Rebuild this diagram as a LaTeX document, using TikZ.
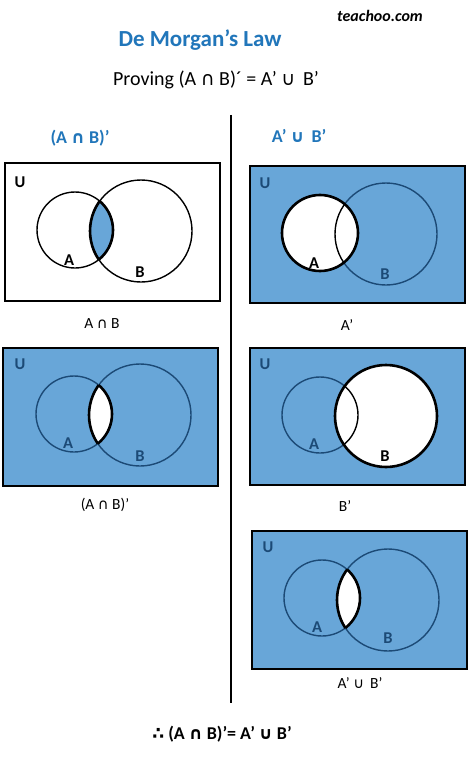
\documentclass[tikz,border=0pt]{standalone}
\usepackage{fontspec}
\setmainfont{Carlito}
\newfontfamily\symf[Scale=0.95]{DejaVu Sans}
\definecolor{fillblue}{RGB}{104,166,216}
\definecolor{darkblue}{RGB}{28,74,118}
\definecolor{titleblue}{RGB}{33,118,186}
\newcommand{\mycap}{{\symf ∩}}
\newcommand{\mycup}{{\symf ∪}}
\newcommand{\mythere}{{\symf ∴}}
\tikzset{
  boxthin/.style={draw=black, line width=1.6pt},
  boxthick/.style={draw=black, line width=2.6pt},
  circblack/.style={draw=black, line width=1.4pt},
  circblue/.style={draw=darkblue, line width=1.4pt},
  lensline/.style={draw=black, line width=2.6pt},
  lbl/.style={font=\fontsize{16.5}{17}\selectfont\bfseries, inner sep=0pt},
  caption/.style={font=\fontsize{15.5}{16}\selectfont, inner sep=0pt},
  heading/.style={font=\fontsize{18}{20}\selectfont\bfseries, text=titleblue, inner sep=0pt},
}
\begin{document}
\begin{tikzpicture}[x=1pt,y=-1pt]
\useasboundingbox (0,0) rectangle (474,762);
\fill[white] (0,0) rectangle (474,762);

% texts at top
\node[font=\fontsize{16}{18}\selectfont\bfseries\itshape, inner sep=0pt] (logo) at (380,16) {teachoo.com};
\node[font=\fontsize{23}{25}\selectfont\bfseries, text=titleblue, inner sep=0pt] (title) at (200,40) {De Morgan’s Law};
\node[font=\fontsize{20}{22}\selectfont, inner sep=0pt] (prove) at (216,80) {Proving (A \mycap{} B)´ = A’ \mycup{}\, B’};

\node[heading] (hl) at (80,138) {(A \mycap{} B)’};
\node[heading] (hr) at (299,136) {A’ \mycup{}\, B’};

% divider
\coordinate (ltop) at (231,115);
\coordinate (lbot) at (231,703);
\draw[line width=1.6pt] (ltop) -- (lbot);

% Panel 1: A intersect B
\begin{scope}[shift={(5,163)}]
  \draw[boxthin, fill=white] (0,0) rectangle (215,138);
  \begin{scope}\clip (70,67) circle[radius=38]; \fill[fillblue] (136,68) circle[radius=51];\end{scope}
  \draw[circblack] (70,67) circle[radius=38];
  \draw[circblack] (136,68) circle[radius=51];
  \begin{scope}\clip (70,67) circle[radius=38]; \draw[lensline] (136,68) circle[radius=51];\end{scope}
  \begin{scope}\clip (136,68) circle[radius=51]; \draw[lensline] (70,67) circle[radius=38];\end{scope}
  \node[lbl] (U1) at (15,19) {U};
  \node[lbl] (A1) at (64,97) {A};
  \node[lbl] (B1) at (135,109) {B};
\end{scope}
\node[caption] (c1) at (102,324) {A \mycap{} B};

% Panel 2: A'
\begin{scope}[shift={(250,166)}]
  \draw[boxthick, fill=fillblue] (0,0) rectangle (215,137);
  \draw[circblue] (136,68) circle[radius=51];
  \fill[white] (70,67) circle[radius=38];
  \begin{scope}\clip (70,67) circle[radius=38]; \draw[circblack] (136,68) circle[radius=51];\end{scope}
  \draw[lensline] (70,67) circle[radius=38];
  \node[lbl, text=darkblue] (U2) at (15,17) {U};
  \node[lbl] (A2) at (64,97) {A};
  \node[lbl, text=darkblue] (B2) at (135,108) {B};
\end{scope}
\node[caption] (c2) at (347,325) {A’};

% Panel 3: (A intersect B)'
\begin{scope}[shift={(3,348)}]
  \draw[boxthick, fill=fillblue] (0,0) rectangle (215,138);
  \begin{scope}\clip (71,66) circle[radius=38]; \fill[white] (137,67) circle[radius=51];\end{scope}
  \draw[circblue] (71,66) circle[radius=38];
  \draw[circblue] (137,67) circle[radius=51];
  \begin{scope}\clip (71,66) circle[radius=38]; \draw[lensline] (137,67) circle[radius=51];\end{scope}
  \begin{scope}\clip (137,67) circle[radius=51]; \draw[lensline] (71,66) circle[radius=38];\end{scope}
  \node[lbl, text=darkblue] (U3) at (17,16) {U};
  \node[lbl, text=darkblue] (A3) at (65,95) {A};
  \node[lbl, text=darkblue] (B3) at (137,108) {B};
\end{scope}
\node[caption] (c3) at (105,505) {(A \mycap{} B)’};

% Panel 4: B'
\begin{scope}[shift={(250,348)}]
  \draw[boxthick, fill=fillblue] (0,0) rectangle (215,137);
  \draw[circblue] (70,67) circle[radius=38];
  \fill[white] (136,68) circle[radius=51];
  \begin{scope}\clip (136,68) circle[radius=51]; \draw[circblack] (70,67) circle[radius=38];\end{scope}
  \draw[lensline] (136,68) circle[radius=51];
  \node[lbl, text=darkblue] (U4) at (15,16) {U};
  \node[lbl, text=darkblue] (A4) at (64,96) {A};
  \node[lbl] (B4) at (135,108) {B};
\end{scope}
\node[caption] (c4) at (345,506) {B’};

% Panel 5: A' union B'
\begin{scope}[shift={(252,531)}]
  \draw[boxthick, fill=fillblue] (0,0) rectangle (215,138);
  \begin{scope}\clip (70,67) circle[radius=38]; \fill[white] (136,69) circle[radius=51];\end{scope}
  \draw[circblue] (70,67) circle[radius=38];
  \draw[circblue] (136,69) circle[radius=51];
  \begin{scope}\clip (70,67) circle[radius=38]; \draw[lensline] (136,69) circle[radius=51];\end{scope}
  \begin{scope}\clip (136,69) circle[radius=51]; \draw[lensline] (70,67) circle[radius=38];\end{scope}
  \node[lbl, text=darkblue] (U5) at (16,16) {U};
  \node[lbl, text=darkblue] (A5) at (65,96) {A};
  \node[lbl, text=darkblue] (B5) at (136,107) {B};
\end{scope}
\node[caption] (c5) at (360,683) {A’ \mycup{}\, B’};

% conclusion
\node[font=\fontsize{18}{20}\selectfont\bfseries, inner sep=0pt] (concl) at (222,734) {\mythere{} (A \mycap{} B)’= A’ \mycup{} B’};
\end{tikzpicture}
\end{document}
